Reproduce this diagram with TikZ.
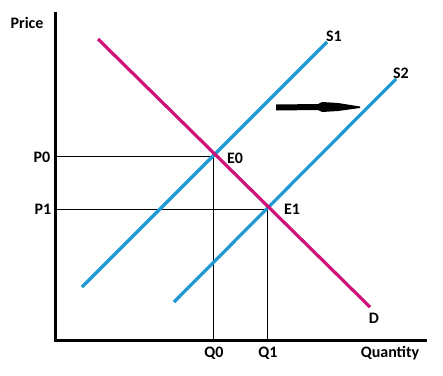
\documentclass[tikz,border=0pt]{standalone}
\usepackage{fontspec}
\setmainfont{Carlito}
\definecolor{dem}{RGB}{206,18,122}
\definecolor{sup}{RGB}{32,152,212}
\tikzset{
  lbl/.style={font=\bfseries\fontsize{16}{18}\selectfont, inner sep=0pt},
  axis/.style={line width=3pt, black},
  guide/.style={line width=0.8pt, black},
  demline/.style={line width=3.2pt, dem},
  supline/.style={line width=3.2pt, sup}
}
\begin{document}
\begin{tikzpicture}[x=1pt,y=-1pt]
\useasboundingbox (0,0) rectangle (443,375);
% axes
\coordinate (ytop) at (55,12);
\coordinate (orig) at (55,340);
\coordinate (xend) at (427,340);
\draw[axis] (ytop) -- (orig.center) -- (xend);
% equilibrium points
\coordinate (E0) at (213,156);
\coordinate (E1) at (267,209);
\coordinate (P0a) at (55,156);
\coordinate (P1a) at (55,209);
\coordinate (Q0a) at (213,340);
\coordinate (Q1a) at (267,340);
\draw[guide] (P0a) -- (E0) -- (Q0a);
\draw[guide] (P1a) -- (E1) -- (Q1a);
% curves
\coordinate (S1a) at (82,287);
\coordinate (S1b) at (327,42);
\coordinate (S2a) at (174,302);
\coordinate (S2b) at (396,79);
\coordinate (Da) at (98,39);
\coordinate (Db) at (370,307);
\draw[supline] (S1a) -- (S1b);
\draw[supline] (S2a) -- (S2b);
\draw[demline] (Da) -- (Db);
% shift arrow
\fill[black] (276,104.5) -- (318,104) -- (322,102) -- (338,103) -- (360,106.5) -- (360,108) -- (338,111) -- (322,112) -- (318,110) -- (276,110.5) -- cycle;
% labels
\node[lbl] (price) at (27,23) {Price};
\node[lbl] (p0) at (42,157) {P0};
\node[lbl] (p1) at (43,209) {P1};
\node[lbl] (q0) at (214,353) {Q0};
\node[lbl] (q1) at (268,353) {Q1};
\node[lbl] (qty) at (390,353) {Quantity};
\node[lbl] (e0) at (235,158) {E0};
\node[lbl] (e1) at (292,209) {E1};
\node[lbl] (s1) at (334,36) {S1};
\node[lbl] (s2) at (401,73) {S2};
\node[lbl] (d) at (374,318) {D};
\end{tikzpicture}
\end{document}
